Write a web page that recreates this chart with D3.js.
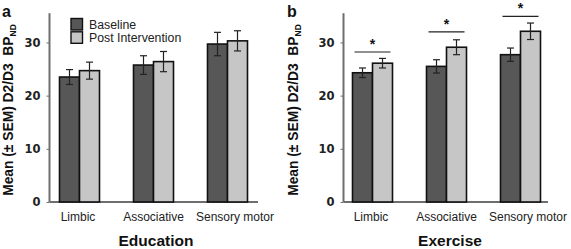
<!DOCTYPE html>
<html><head><meta charset="utf-8">
<script src="https://cdn.jsdelivr.net/npm/d3@7"></script>
<style>body{margin:0;background:#fff}svg{display:block}</style>
</head><body>
<script>
const categories = ["Limbic","Associative","Sensory motor"];
const seriesNames = ["Baseline","Post Intervention"];
const eduBaseline = [23.5, 25.75, 29.7];
const eduBaselineSem = [1.4, 1.75, 2.2];
const eduPost = [24.7, 26.4, 30.3];
const eduPostSem = [1.6, 1.9, 1.9];
const exBaseline = [24.3, 25.5, 27.7];
const exBaselineSem = [0.9, 1.25, 1.25];
const exPost = [26.1, 29.1, 32.1];
const exPostSem = [0.9, 1.4, 1.55];
const exSigLevel = [28.2, 32.0, 34.9];
const yTicks = [0, 10, 20, 30];
const colors = ["#575757", "#c6c6c6"];

const svg = d3.select("body").append("svg").attr("width",571).attr("height",249);
const labelNudge = {"Limbic":-1.5, "Associative":0, "Sensory motor":7.5};

function panel(opt){
  const g = svg.append("g");
  const y = d3.scaleLinear().domain([0,35.5]).range([202,13.2]);
  const x0 = d3.scaleBand().domain(categories).range([opt.x0-37, opt.x0-37+222]).paddingInner(0).paddingOuter(0);
  const x1 = d3.scaleBand().domain(seriesNames).range([x0.bandwidth()/2-20, x0.bandwidth()/2+20]);
  const ax = opt.axisX;
  g.append("line").attr("x1",ax).attr("x2",ax).attr("y1",y(35.5)).attr("y2",y(0)).attr("stroke","#6e6e6e").attr("stroke-width",2);
  g.append("line").attr("x1",ax).attr("x2",opt.axisEnd).attr("y1",y(0)).attr("y2",y(0)).attr("stroke","#6e6e6e").attr("stroke-width",2);
  const yAxis = d3.axisLeft(y).tickValues(yTicks).tickSize(3).tickPadding(6);
  const ya = g.append("g").attr("transform",`translate(${ax},0)`).call(yAxis);
  ya.select(".domain").remove();
  ya.selectAll(".tick line").attr("stroke","#6e6e6e");
  ya.selectAll("text").attr("font-family","DejaVu Sans").attr("font-weight","bold").attr("font-size",11.5).attr("fill","#222");
  const data = categories.map((c,i)=>({c, vals:[
    {s:seriesNames[0], v:opt.b[i], e:opt.bs[i], col:colors[0]},
    {s:seriesNames[1], v:opt.p[i], e:opt.ps[i], col:colors[1]}]}));
  const grp = g.selectAll(".grp").data(data).join("g").attr("transform",d=>`translate(${x0(d.c)},0)`);
  grp.selectAll("rect").data(d=>d.vals).join("rect")
    .attr("x",d=>x1(d.s)).attr("width",x1.bandwidth())
    .attr("y",d=>y(d.v)).attr("height",d=>y(0)-y(d.v))
    .attr("fill",d=>d.col).attr("stroke","#111").attr("stroke-width",1.6);
  const eb = grp.selectAll(".eb").data(d=>d.vals).join("g");
  eb.append("line").attr("x1",d=>x1(d.s)+x1.bandwidth()/2).attr("x2",d=>x1(d.s)+x1.bandwidth()/2)
    .attr("y1",d=>y(d.v+d.e)).attr("y2",d=>y(d.v-d.e)).attr("stroke","#222").attr("stroke-width",1.2);
  [1,-1].forEach(sg=>{
    eb.append("line").attr("x1",d=>x1(d.s)+x1.bandwidth()/2-3.5).attr("x2",d=>x1(d.s)+x1.bandwidth()/2+3.5)
      .attr("y1",d=>y(d.v+sg*d.e)).attr("y2",d=>y(d.v+sg*d.e)).attr("stroke","#222").attr("stroke-width",1.2);
  });
  g.selectAll(".cl").data(categories).join("text")
    .attr("x",d=>x0(d)+x0.bandwidth()/2+labelNudge[d]).attr("y",221).attr("text-anchor","middle")
    .attr("font-family","Liberation Sans").attr("font-size",12).attr("fill","#222").text(d=>d);
  g.append("text").attr("x",opt.titleX).attr("y",246).attr("text-anchor","middle")
    .attr("font-family","Liberation Sans").attr("font-weight","bold").attr("font-size",15.5).attr("fill","#111").text(opt.title);
  const yt = g.append("text").attr("transform",`translate(${opt.ytX},110) rotate(-90)`).attr("text-anchor","middle")
    .attr("font-family","Liberation Sans").attr("font-weight","bold").attr("font-size",13.8).attr("fill","#111");
  yt.append("tspan").text("Mean (± SEM) D2/D3\u00A0\u00A0BP");
  yt.append("tspan").attr("font-size",8.5).attr("dy",3).text("ND");
  g.append("text").attr("x",opt.letterX).attr("y",17).attr("font-family","Liberation Sans").attr("font-weight","bold")
    .attr("font-size",16).attr("fill","#111").text(opt.letter);
  return {g,x0,x1,y};
}

const A = panel({x0:79.5, axisX:49.5, axisEnd:258, b:eduBaseline, bs:eduBaselineSem, p:eduPost, ps:eduPostSem,
  title:"Education", titleX:156, letter:"a", letterX:2, ytX:12.5});
const lg = A.g.append("g");
seriesNames.forEach((s,i)=>{
  lg.append("rect").attr("x",71).attr("y",18.5+i*13.3).attr("width",11.5).attr("height",11.5)
    .attr("fill",colors[i]).attr("stroke","#111").attr("stroke-width",1.4);
  lg.append("text").attr("x",89).attr("y",28.5+i*13.3).attr("font-family","Liberation Sans").attr("font-size",12.3)
    .attr("fill","#222").text(s);
});

const B = panel({x0:372.5, axisX:343.5, axisEnd:548, b:exBaseline, bs:exBaselineSem, p:exPost, ps:exPostSem,
  title:"Exercise", titleX:450, letter:"b", letterX:287, ytX:297.5});
categories.forEach((c,i)=>{
  const cx = B.x0(c)+B.x0.bandwidth()/2;
  B.g.append("line").attr("x1",cx-18).attr("x2",cx+18).attr("y1",B.y(exSigLevel[i])).attr("y2",B.y(exSigLevel[i]))
    .attr("stroke","#222").attr("stroke-width",1.2);
  B.g.append("text").attr("x",cx).attr("y",B.y(exSigLevel[i])-3).attr("text-anchor","middle")
    .attr("font-family","Liberation Sans").attr("font-weight","bold").attr("font-size",14).attr("fill","#111").text("*");
});
</script>
</body></html>
